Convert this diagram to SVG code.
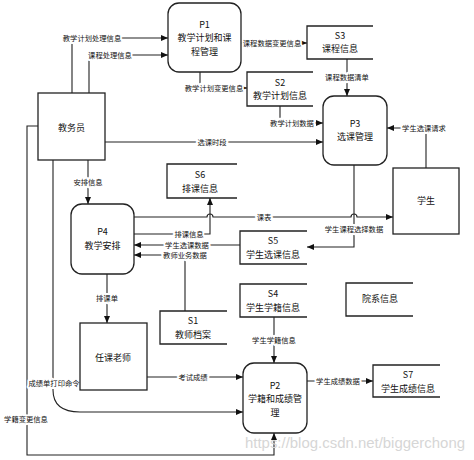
<svg xmlns="http://www.w3.org/2000/svg" width="474" height="460" viewBox="0 0 474 460">
<defs>
<marker id="ah" markerWidth="7" markerHeight="6" refX="7" refY="3" orient="auto" markerUnits="userSpaceOnUse">
<path d="M0,0 L7,3 L0,6 z" fill="#111"/>
</marker>
<style>
.box{fill:#fff;stroke:#222;stroke-width:1.3}
.st{fill:none;stroke:#222;stroke-width:1.3}
.ln{fill:none;stroke:#222;stroke-width:1.1;marker-end:url(#ah)}
.t{font-family:"Noto Sans CJK SC","Liberation Sans",sans-serif;font-size:9px;fill:#111;text-anchor:middle;dominant-baseline:central}
.lb{font-family:"Noto Sans CJK SC","Liberation Sans",sans-serif;font-size:7.3px;fill:#111;text-anchor:middle;dominant-baseline:central;stroke:#fff;stroke-width:4;stroke-linejoin:round;paint-order:stroke}
</style>
</defs>
<rect width="474" height="460" fill="#fff"/>

<g id="connectors">
<path class="ln" d="M72,93 V38 H168"/>
<path class="ln" d="M89,93 V55 H168"/>
<path class="ln" d="M241,43 H307"/>
<path class="ln" d="M200,72 V88 H247"/>
<path class="ln" d="M347,59 V96"/>
<path class="ln" d="M280,106 V123 H323"/>
<path class="ln" d="M105,142 H323"/>
<path class="ln" d="M426,168 V128 H387"/>
<path class="ln" d="M88,160 V204"/>
<path class="ln" d="M134,217 H207 a3,3 0 0 1 6,0 H351 a3,3 0 0 1 6,0 H393"/>
<path class="ln" d="M134,234 H210 V198"/>
<path class="ln" d="M240,245 H134"/>
<path class="ln" d="M185,311 V255 H134"/>
<path class="ln" d="M354,165 V247 H307"/>
<path class="ln" d="M107,274 V323"/>
<path class="ln" d="M147,377 H243"/>
<path class="ln" d="M274,317 V363"/>
<path class="ln" d="M307,381 H373"/>
<path class="ln" d="M38,126 H27 V455 H274 V433"/>
<path class="ln" d="M53,160 V390 Q53,412 80,412 H243"/>

<text class="lb" x="92" y="38">教学计划处理信息</text>
<text class="lb" x="110" y="55">课程处理信息</text>
<text class="lb" x="272" y="43">课程数据变更信息</text>
<text class="lb" x="214" y="88">教学计划变更信息</text>
<text class="lb" x="347" y="77">课程数据清单</text>
<text class="lb" x="292" y="123">教学计划数据</text>
<text class="lb" x="212" y="142">选课时段</text>
<text class="lb" x="424" y="128">学生选课请求</text>
<text class="lb" x="88" y="182">安排信息</text>
<text class="lb" x="264" y="217">课表</text>
<text class="lb" x="189" y="234">排课信息</text>
<text class="lb" x="187" y="245">学生选课数据</text>
<text class="lb" x="185" y="255">教师业务数据</text>
<text class="lb" x="354" y="229">学生课程选择数据</text>
<text class="lb" x="107" y="298">排课单</text>
<text class="lb" x="193" y="377">考试成绩</text>
<text class="lb" x="274" y="340">学生学籍信息</text>
<text class="lb" x="338" y="381">学生成绩数据</text>
<text class="lb" x="26" y="419">学籍变更信息</text>
<text class="lb" x="54" y="383">成绩单打印命令</text>
</g>

<g id="P1"><rect class="box" x="168" y="3" width="73" height="69" rx="11"/>
<text class="t" x="204.5" y="24">P1</text><text class="t" x="204.5" y="37.5">教学计划和课</text><text class="t" x="204.5" y="51">程管理</text></g>
<g id="P3"><rect class="box" x="323" y="96" width="64" height="69" rx="11"/>
<text class="t" x="355" y="123">P3</text><text class="t" x="355" y="136.5">选课管理</text></g>
<g id="P4"><rect class="box" x="71" y="204" width="63" height="70" rx="11"/>
<text class="t" x="102.5" y="231.5">P4</text><text class="t" x="102.5" y="245">教学安排</text></g>
<g id="P2"><rect class="box" x="243" y="363" width="64" height="70" rx="11"/>
<text class="t" x="275" y="385">P2</text><text class="t" x="275" y="398.5">学籍和成绩管</text><text class="t" x="275" y="412">理</text></g>

<g id="jiaowuyuan"><rect class="box" x="38" y="93" width="67" height="67"/><text class="t" x="71.5" y="127">教务员</text></g>
<g id="teacher"><rect class="box" x="80" y="323" width="67" height="67"/><text class="t" x="113" y="357">任课老师</text></g>
<g id="student"><rect class="box" x="393" y="168" width="66" height="66"/><text class="t" x="426" y="200">学生</text></g>

<g id="S3"><path class="st" d="M373,26 H307 V59 H373"/><text class="t" x="340" y="35">S3</text><text class="t" x="340" y="48.5">课程信息</text></g>
<g id="S2"><path class="st" d="M313,72 H247 V106 H313"/><text class="t" x="280" y="82">S2</text><text class="t" x="280" y="95.5">教学计划信息</text></g>
<g id="S6"><path class="st" d="M237,164 H167 V198 H237"/><text class="t" x="200" y="174.5">S6</text><text class="t" x="200" y="188">排课信息</text></g>
<g id="S5"><path class="st" d="M307,231 H240 V264 H307"/><text class="t" x="273" y="240.5">S5</text><text class="t" x="273" y="254">学生选课信息</text></g>
<g id="S4"><path class="st" d="M307,284 H240 V317 H307"/><text class="t" x="273" y="293.5">S4</text><text class="t" x="273" y="307">学生学籍信息</text></g>
<g id="yuanxi"><path class="st" d="M413,283 H346 V316 H413"/><text class="t" x="380" y="298">院系信息</text></g>
<g id="S1"><path class="st" d="M227,311 H160 V344 H227"/><text class="t" x="193" y="320.5">S1</text><text class="t" x="193" y="334">教师档案</text></g>
<g id="S7"><path class="st" d="M440,365 H373 V397 H440"/><text class="t" x="408" y="374.5">S7</text><text class="t" x="408" y="388">学生成绩信息</text></g>

<text x="245" y="448" font-family="Liberation Sans, sans-serif" font-size="14" fill="#d6d6d6" textLength="220" lengthAdjust="spacingAndGlyphs">https://blog.csdn.net/biggerchong</text>
</svg>
